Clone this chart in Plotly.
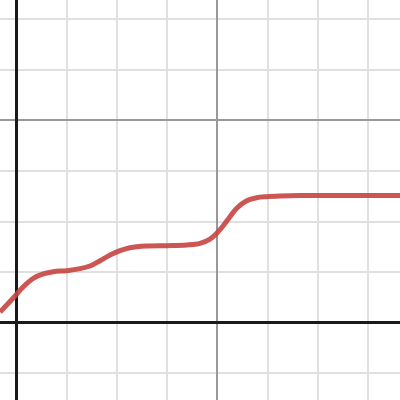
import plotly.graph_objects as go

# curve (grid units, 1 unit = one minor square)
xs = [-0.322, -0.189, -0.018, 0.141, 0.340, 0.539, 0.738, 1.004, 1.268, 1.467,
      1.666, 1.866, 2.064, 2.262, 2.594, 3.004, 3.390, 3.654, 3.853, 3.986,
      4.117, 4.250, 4.384, 4.583, 4.781, 4.980, 5.244, 5.640, 6.500, 7.630]
ys = [0.210, 0.348, 0.532, 0.710, 0.877, 0.962, 1.007, 1.027, 1.067, 1.120,
      1.225, 1.338, 1.423, 1.482, 1.516, 1.522, 1.536, 1.569, 1.654, 1.767,
      1.918, 2.096, 2.262, 2.412, 2.472, 2.492, 2.505, 2.515, 2.515, 2.515]

x_range = [-0.322, 7.63]
y_range = [-1.532, 6.384]

fig = go.Figure()
fig.add_trace(go.Scatter(x=xs, y=ys, mode='lines',
                         line=dict(color='rgba(199,68,64,0.9)', width=5, shape='spline', smoothing=1.0),
                         hoverinfo='skip'))


def axis_style(rng):
    return dict(
        range=rng,
        tick0=0, dtick=4,
        showgrid=True, gridcolor='#999999', gridwidth=2,
        minor=dict(dtick=1, tick0=0, showgrid=True, gridcolor='#e0e0e0', gridwidth=2),
        zeroline=True, zerolinecolor='#1a1a1a', zerolinewidth=3,
        showticklabels=False, ticks='', showline=False, fixedrange=True,
    )


fig.update_layout(
    width=400, height=400,
    margin=dict(l=0, r=0, t=0, b=0),
    paper_bgcolor='white', plot_bgcolor='white',
    showlegend=False,
    xaxis=axis_style(x_range),
    yaxis=axis_style(y_range),
)

# the page body has an 8px margin by default, drop it so the plot fills the window
fig.write_html("out.html", config={'displayModeBar': False},
               post_script="document.body.style.margin='0';document.body.style.overflow='hidden';")
